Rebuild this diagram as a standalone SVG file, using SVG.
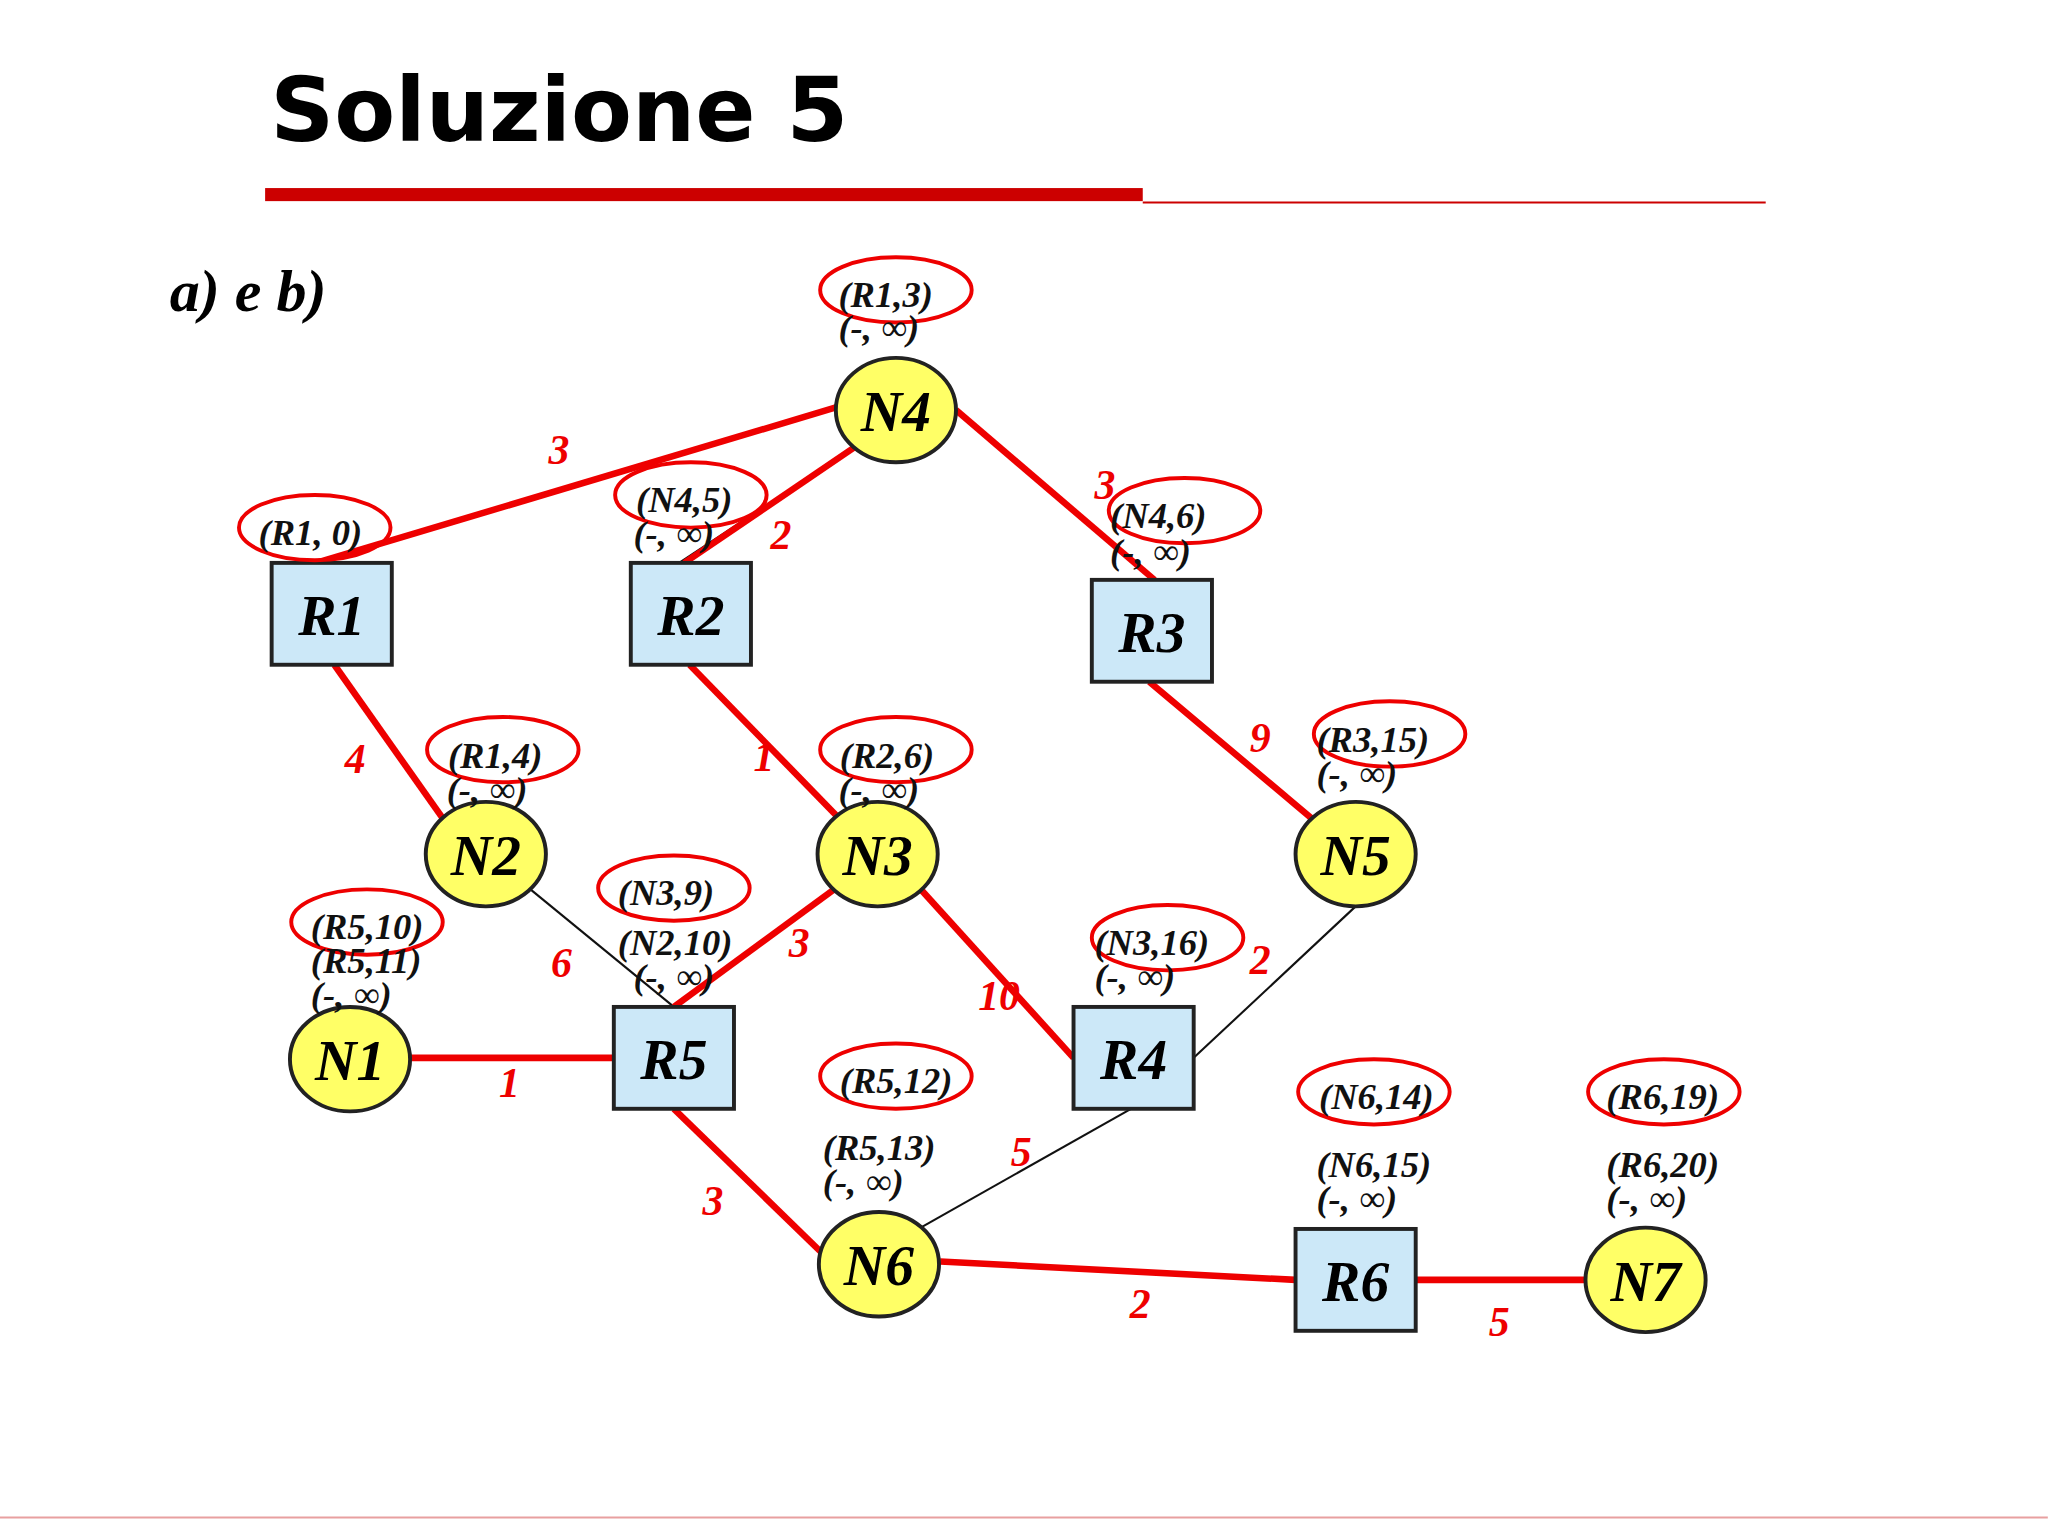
<svg xmlns="http://www.w3.org/2000/svg" width="2048" height="1536" viewBox="0 0 2048 1536">
<style>
.r{fill:#cce8f8;stroke:#222;stroke-width:3}
.c{fill:#ffff66;stroke:#222;stroke-width:3}
.nl{font-family:"Liberation Serif",serif;font-style:italic;font-weight:bold;font-size:44px;text-anchor:middle;fill:#000}
.t{font-family:"Liberation Serif",serif;font-style:italic;font-weight:bold;font-size:28px;fill:#111}
.w{font-family:"Liberation Serif",serif;font-style:italic;font-weight:bold;font-size:32px;fill:#e00;text-anchor:middle}
.e{fill:none;stroke:#e00;stroke-width:3}
.red{stroke:#e00;stroke-width:5;fill:none}
.blk{stroke:#111;stroke-width:1.6;fill:none}
</style>
<rect width="2048" height="1536" fill="#fff"/>
<g transform="scale(1.306)">
<text x="207" y="108" font-family="Verdana,'DejaVu Sans',sans-serif" font-weight="bold" font-size="68">Soluzione 5</text>
<rect x="203" y="144" width="672" height="10" fill="#c00"/>
<line x1="875" y1="155" x2="1352" y2="155" stroke="#c00" stroke-width="1.5"/>
<text x="130" y="238" font-family="'Liberation Serif',serif" font-style="italic" font-weight="bold" font-size="46">a) e b)</text>
<line x1="0" y1="1162" x2="1568" y2="1162" stroke="#e8a0a0" stroke-width="1.5"/>
<g id="connectors">
<line class="blk" x1="242" y1="431" x2="640" y2="312"/><line class="red" x1="242" y1="431" x2="640" y2="312"/>
<line class="blk" x1="520" y1="431" x2="655" y2="342"/><line class="red" x1="524" y1="431" x2="655" y2="342"/>
<line class="red" x1="732" y1="314" x2="884" y2="444"/>
<line class="red" x1="256" y1="509" x2="340" y2="628"/>
<line class="red" x1="528" y1="509" x2="640" y2="624"/>
<line class="red" x1="880" y1="522" x2="1006" y2="628"/>
<line class="blk" x1="405" y1="680" x2="516" y2="771"/>
<line class="red" x1="640" y1="680" x2="516" y2="771"/>
<line class="red" x1="706" y1="682" x2="822" y2="810"/>
<line class="blk" x1="1038" y1="694" x2="914" y2="810"/>
<line class="red" x1="314" y1="810" x2="470" y2="810"/>
<line class="red" x1="516" y1="849" x2="630" y2="960"/>
<line class="blk" x1="866" y1="849" x2="705" y2="940"/>
<line class="red" x1="720" y1="966" x2="992" y2="980"/>
<line class="red" x1="1084" y1="980" x2="1214" y2="980"/>
</g>
<g id="weights">
<text class="w" x="428" y="355">3</text><text class="w" x="598" y="420">2</text><text class="w" x="846" y="382">3</text>
<text class="w" x="272" y="592">4</text><text class="w" x="585" y="590">1</text><text class="w" x="965" y="576">9</text>
<text class="w" x="430" y="748">6</text><text class="w" x="612" y="733">3</text><text class="w" x="765" y="773">10</text>
<text class="w" x="965" y="746">2</text><text class="w" x="390" y="840">1</text><text class="w" x="546" y="930">3</text>
<text class="w" x="782" y="893">5</text><text class="w" x="873" y="1009">2</text><text class="w" x="1148" y="1023">5</text>
</g>
<g id="N4"><ellipse class="c" cx="686" cy="314" rx="46" ry="40"/><text class="nl" x="686" y="330">N4</text></g>
<g id="R1"><rect class="r" x="208" y="431" width="92" height="78"/><text class="nl" x="254" y="486">R1</text></g>
<g id="R2"><rect class="r" x="483" y="431" width="92" height="78"/><text class="nl" x="529" y="486">R2</text></g>
<g id="R3"><rect class="r" x="836" y="444" width="92" height="78"/><text class="nl" x="882" y="499">R3</text></g>
<g id="N2"><ellipse class="c" cx="372" cy="654" rx="46" ry="40"/><text class="nl" x="372" y="670">N2</text></g>
<g id="N3"><ellipse class="c" cx="672" cy="654" rx="46" ry="40"/><text class="nl" x="672" y="670">N3</text></g>
<g id="N5"><ellipse class="c" cx="1038" cy="654" rx="46" ry="40"/><text class="nl" x="1038" y="670">N5</text></g>
<g id="N1"><ellipse class="c" cx="268" cy="811" rx="46" ry="40"/><text class="nl" x="268" y="827">N1</text></g>
<g id="R5"><rect class="r" x="470" y="771" width="92" height="78"/><text class="nl" x="516" y="826">R5</text></g>
<g id="R4"><rect class="r" x="822" y="771" width="92" height="78"/><text class="nl" x="868" y="826">R4</text></g>
<g id="N6"><ellipse class="c" cx="673" cy="968" rx="46" ry="40"/><text class="nl" x="673" y="984">N6</text></g>
<g id="R6"><rect class="r" x="992" y="941" width="92" height="78"/><text class="nl" x="1038" y="996">R6</text></g>
<g id="N7"><ellipse class="c" cx="1260" cy="980" rx="46" ry="40"/><text class="nl" x="1260" y="996">N7</text></g>
<g id="labels">
<ellipse class="e" cx="686" cy="222" rx="58" ry="25"/><text class="t" x="642" y="235">(R1,3)</text><text class="t" x="642" y="260">(-, ∞)</text>
<ellipse class="e" cx="241" cy="404" rx="58" ry="25"/><text class="t" x="198" y="417">(R1, 0)</text>
<ellipse class="e" cx="529" cy="379" rx="58" ry="25"/><text class="t" x="487" y="392">(N4,5)</text><text class="t" x="485" y="418">(-, ∞)</text>
<ellipse class="e" cx="907" cy="391" rx="58" ry="25"/><text class="t" x="850" y="404">(N4,6)</text><text class="t" x="850" y="432">(-, ∞)</text>
<ellipse class="e" cx="385" cy="574" rx="58" ry="25"/><text class="t" x="343" y="588">(R1,4)</text><text class="t" x="342" y="614">(-, ∞)</text>
<ellipse class="e" cx="686" cy="574" rx="58" ry="25"/><text class="t" x="643" y="588">(R2,6)</text><text class="t" x="642" y="614">(-, ∞)</text>
<ellipse class="e" cx="1064" cy="562" rx="58" ry="25"/><text class="t" x="1008" y="576">(R3,15)</text><text class="t" x="1008" y="602">(-, ∞)</text>
<ellipse class="e" cx="516" cy="680" rx="58" ry="25"/><text class="t" x="473" y="693">(N3,9)</text><text class="t" x="473" y="731">(N2,10)</text><text class="t" x="485" y="757">(-, ∞)</text>
<ellipse class="e" cx="281" cy="706" rx="58" ry="25"/><text class="t" x="238" y="719">(R5,10)</text><text class="t" x="238" y="745">(R5,11)</text><text class="t" x="238" y="771">(-, ∞)</text>
<ellipse class="e" cx="894" cy="718" rx="58" ry="25"/><text class="t" x="838" y="731">(N3,16)</text><text class="t" x="838" y="757">(-, ∞)</text>
<ellipse class="e" cx="686" cy="824" rx="58" ry="25"/><text class="t" x="643" y="837">(R5,12)</text><text class="t" x="630" y="888">(R5,13)</text><text class="t" x="630" y="914">(-, ∞)</text>
<ellipse class="e" cx="1052" cy="836" rx="58" ry="25"/><text class="t" x="1010" y="849">(N6,14)</text><text class="t" x="1008" y="901">(N6,15)</text><text class="t" x="1008" y="927">(-, ∞)</text>
<ellipse class="e" cx="1274" cy="836" rx="58" ry="25"/><text class="t" x="1230" y="849">(R6,19)</text><text class="t" x="1230" y="901">(R6,20)</text><text class="t" x="1230" y="927">(-, ∞)</text>
</g>
</g>
</svg>
